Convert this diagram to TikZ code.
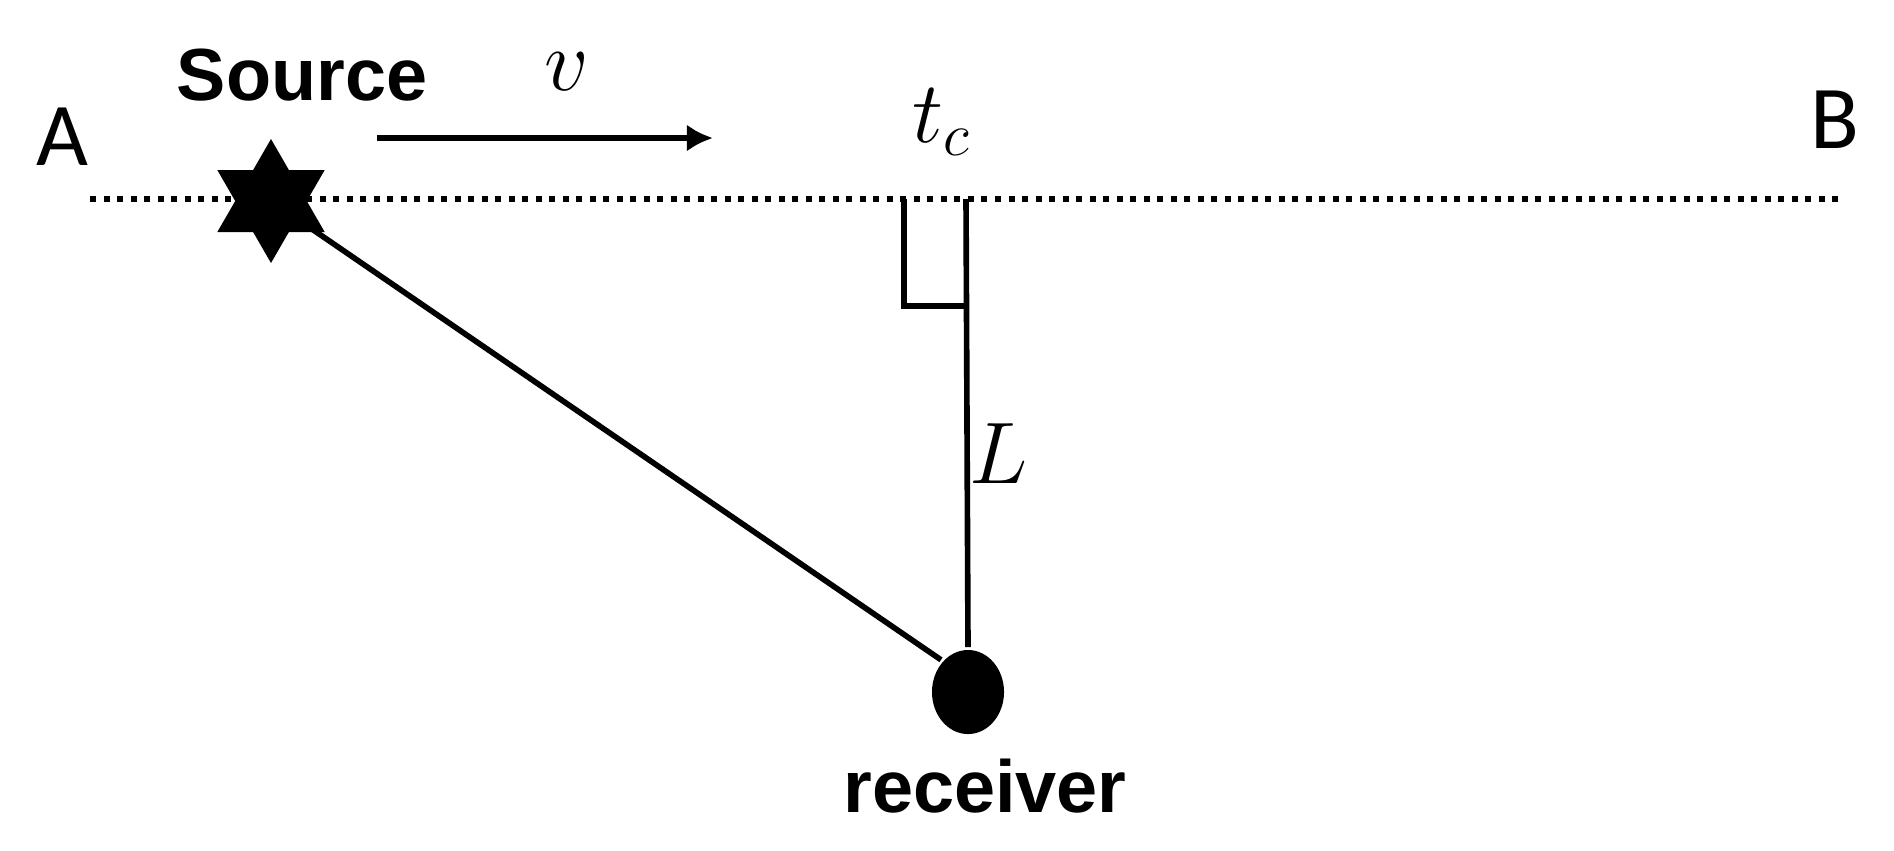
\documentclass[tikz,border=0pt]{standalone}
\usepackage{fontspec}
\setmainfont{Carlito}
\newfontfamily\labelfont{Liberation Sans}
\usetikzlibrary{shapes.geometric,arrows.meta}

\begin{document}
\begin{tikzpicture}[x=0.01cm,y=-0.01cm,
  every path/.style={line width=1.6pt},
  txt/.style={inner sep=0pt,anchor=base,font=\labelfont\bfseries\fontsize{21}{25}\selectfont},
  end/.style={inner sep=0pt,anchor=base,font=\fontsize{25.5}{30}\selectfont},
  sym/.style={inner sep=0pt,anchor=base,font=\fontsize{24}{28}\selectfont},
  road/.style={line width=1.7pt,dash pattern=on 0.06cm off 0.075cm}]
\useasboundingbox (0,0) rectangle (1894,850);
\coordinate         (p) at (90,199);
\coordinate         (q) at (1840,199);
\coordinate         (foot) at (966,199);
\coordinate         (box) at (904,306);
\coordinate         (vs) at (377,138);
\coordinate         (ve) at (713,138);
\coordinate         (src) at (271,201);
\node[end]          (A) at (62,165)   {A};
\node[end]          (B) at (1835,148) {B};
\node[txt]          (srclbl) at (302,100) {Source};
\node[txt]          (rcvlbl) at (985,812) {receiver};
\node[sym]          (v) at (567,90)   {$v$};
\node[sym]          (tc) at (942,142) {$t_c$};
\node[sym]          (L) at (999,483)  {$L$};
\draw[road]         (p) -- (q);
\draw               (foot -| box) |- (box -| foot);
\node[ellipse,fill,inner sep=0pt,minimum width=0.72cm,minimum height=0.84cm]
                    (rcv) at (968,692) {};
\draw               (foot) -- (rcv.north);
\draw               (src) -- (rcv.130);
% six-pointed star
\fill (src) +(-90:62) -- +(30:62) -- +(150:62) -- cycle;
\fill (src) +(90:62) -- +(-30:62) -- +(-150:62) -- cycle;
\draw[-{Latex[length=0.26cm,width=0.27cm]},line width=1.8pt] (vs) -- (ve);
\end{tikzpicture}
\end{document}
